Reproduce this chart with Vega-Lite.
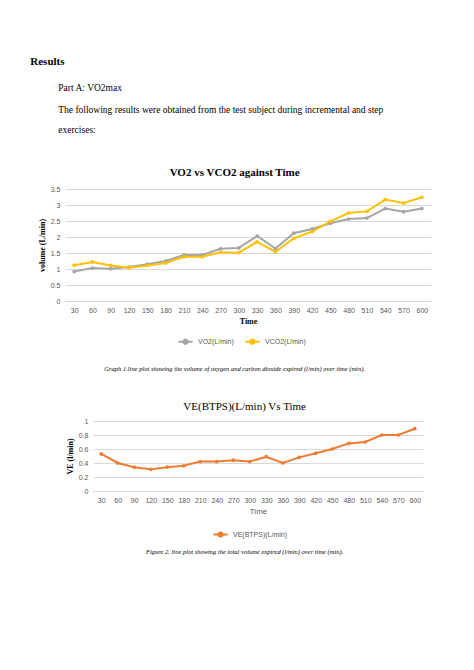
{
  "$schema": "https://vega.github.io/schema/vega-lite/v6.json",
  "padding": {"left": 30, "top": 56, "right": 10, "bottom": 10},
  "background": "white",
  "title": {
    "text": "Results",
    "anchor": "start",
    "fontSize": 11,
    "fontWeight": "bold",
    "font": "Liberation Serif",
    "color": "black",
    "dx": -8,
    "offset": 16
  },
  "datasets": {
    "gas": [
      {"time": 30, "series": "VO2(L/min)", "value": 0.92},
      {"time": 60, "series": "VO2(L/min)", "value": 1.03},
      {"time": 90, "series": "VO2(L/min)", "value": 1.01},
      {"time": 120, "series": "VO2(L/min)", "value": 1.06},
      {"time": 150, "series": "VO2(L/min)", "value": 1.15},
      {"time": 180, "series": "VO2(L/min)", "value": 1.25},
      {"time": 210, "series": "VO2(L/min)", "value": 1.44},
      {"time": 240, "series": "VO2(L/min)", "value": 1.44},
      {"time": 270, "series": "VO2(L/min)", "value": 1.63},
      {"time": 300, "series": "VO2(L/min)", "value": 1.66},
      {"time": 330, "series": "VO2(L/min)", "value": 2.03},
      {"time": 360, "series": "VO2(L/min)", "value": 1.64},
      {"time": 390, "series": "VO2(L/min)", "value": 2.12},
      {"time": 420, "series": "VO2(L/min)", "value": 2.25},
      {"time": 450, "series": "VO2(L/min)", "value": 2.43},
      {"time": 480, "series": "VO2(L/min)", "value": 2.56},
      {"time": 510, "series": "VO2(L/min)", "value": 2.59},
      {"time": 540, "series": "VO2(L/min)", "value": 2.89},
      {"time": 570, "series": "VO2(L/min)", "value": 2.79},
      {"time": 600, "series": "VO2(L/min)", "value": 2.89},
      {"time": 30, "series": "VCO2(L/min)", "value": 1.12},
      {"time": 60, "series": "VCO2(L/min)", "value": 1.22},
      {"time": 90, "series": "VCO2(L/min)", "value": 1.11},
      {"time": 120, "series": "VCO2(L/min)", "value": 1.04},
      {"time": 150, "series": "VCO2(L/min)", "value": 1.11},
      {"time": 180, "series": "VCO2(L/min)", "value": 1.19},
      {"time": 210, "series": "VCO2(L/min)", "value": 1.38},
      {"time": 240, "series": "VCO2(L/min)", "value": 1.38},
      {"time": 270, "series": "VCO2(L/min)", "value": 1.52},
      {"time": 300, "series": "VCO2(L/min)", "value": 1.51},
      {"time": 330, "series": "VCO2(L/min)", "value": 1.85},
      {"time": 360, "series": "VCO2(L/min)", "value": 1.54},
      {"time": 390, "series": "VCO2(L/min)", "value": 1.96},
      {"time": 420, "series": "VCO2(L/min)", "value": 2.17},
      {"time": 450, "series": "VCO2(L/min)", "value": 2.49},
      {"time": 480, "series": "VCO2(L/min)", "value": 2.75},
      {"time": 510, "series": "VCO2(L/min)", "value": 2.8},
      {"time": 540, "series": "VCO2(L/min)", "value": 3.17},
      {"time": 570, "series": "VCO2(L/min)", "value": 3.06},
      {"time": 600, "series": "VCO2(L/min)", "value": 3.24}
    ],
    "ve": [
      {"time": 30, "series": "VE(BTPS)(L/min)", "value": 0.53},
      {"time": 60, "series": "VE(BTPS)(L/min)", "value": 0.4},
      {"time": 90, "series": "VE(BTPS)(L/min)", "value": 0.34},
      {"time": 120, "series": "VE(BTPS)(L/min)", "value": 0.31},
      {"time": 150, "series": "VE(BTPS)(L/min)", "value": 0.34},
      {"time": 180, "series": "VE(BTPS)(L/min)", "value": 0.36},
      {"time": 210, "series": "VE(BTPS)(L/min)", "value": 0.42},
      {"time": 240, "series": "VE(BTPS)(L/min)", "value": 0.42},
      {"time": 270, "series": "VE(BTPS)(L/min)", "value": 0.44},
      {"time": 300, "series": "VE(BTPS)(L/min)", "value": 0.42},
      {"time": 330, "series": "VE(BTPS)(L/min)", "value": 0.49},
      {"time": 360, "series": "VE(BTPS)(L/min)", "value": 0.4},
      {"time": 390, "series": "VE(BTPS)(L/min)", "value": 0.48},
      {"time": 420, "series": "VE(BTPS)(L/min)", "value": 0.54},
      {"time": 450, "series": "VE(BTPS)(L/min)", "value": 0.6},
      {"time": 480, "series": "VE(BTPS)(L/min)", "value": 0.68},
      {"time": 510, "series": "VE(BTPS)(L/min)", "value": 0.7},
      {"time": 540, "series": "VE(BTPS)(L/min)", "value": 0.8},
      {"time": 570, "series": "VE(BTPS)(L/min)", "value": 0.8},
      {"time": 600, "series": "VE(BTPS)(L/min)", "value": 0.89}
    ]
  },
  "center": true,
  "spacing": 28,
  "resolve": {
    "scale": {"color": "independent", "x": "independent", "y": "independent"},
    "legend": {"color": "independent"}
  },
  "vconcat": [
    {
      "title": {
        "text": "Part A: VO2max",
        "subtitle": [
          "The following results were obtained from the test subject during incremental and step",
          "exercises:"
        ],
        "anchor": "start",
        "dx": 20,
        "fontSize": 9.5,
        "fontWeight": "normal",
        "font": "Liberation Serif",
        "color": "black",
        "subtitleFont": "Liberation Serif",
        "subtitleFontSize": 9.5,
        "subtitleColor": "black",
        "subtitlePadding": 12,
        "subtitleLineHeight": 20,
        "offset": 33
      },
      "resolve": {"legend": {"color": "independent"}},
      "vconcat": [
        {
          "title": {
            "text": "Graph 1.line plot showing the volume of oxygen and carbon dioxide expired (l/min) over time (min).",
            "orient": "bottom",
            "anchor": "middle",
            "fontSize": 6.5,
            "fontStyle": "italic",
            "fontWeight": "normal",
            "font": "Liberation Serif",
            "color": "black",
            "offset": 18
          },
          "resolve": {"legend": {"color": "independent"}},
          "vconcat": [
            {
              "width": 366,
              "height": 112,
              "title": {
                "text": "VO2 vs VCO2 against Time",
                "fontSize": 11,
                "fontWeight": "bold",
                "font": "Liberation Serif",
                "color": "black",
                "frame": "bounds",
                "offset": 7
              },
              "data": {"name": "gas"},
              "mark": {"type": "line", "strokeWidth": 2, "point": {"filled": true, "size": 14}},
              "encoding": {
                "x": {
                  "field": "time",
                  "type": "ordinal",
                  "scale": {"type": "point", "padding": 0.5},
                  "axis": {"title": "Time", "labelAngle": 0}
                },
                "y": {
                  "field": "value",
                  "type": "quantitative",
                  "scale": {"domain": [0, 3.5]},
                  "axis": {"title": "volume (L/min)", "values": [0, 0.5, 1, 1.5, 2, 2.5, 3, 3.5], "format": "~g"}
                },
                "color": {
                  "field": "series",
                  "type": "nominal",
                  "scale": {"domain": ["VO2(L/min)", "VCO2(L/min)"], "range": ["#a5a5a5", "#ffc000"]},
                  "legend": {"title": null, "orient": "none", "legendX": 112, "legendY": 144}
                }
              }
            }
          ]
        }
      ]
    },
    {
      "title": {
        "text": "Figure 2. line plot showing the total volume expired (l/min) over time (min).",
        "orient": "bottom",
        "anchor": "middle",
        "fontSize": 6.5,
        "fontStyle": "italic",
        "fontWeight": "normal",
        "font": "Liberation Serif",
        "color": "black",
        "offset": 8
      },
      "resolve": {"legend": {"color": "independent"}},
      "spacing": -8,
      "hconcat": [
        {
          "width": 1,
          "height": 70,
          "data": {"values": []},
          "mark": "point",
          "encoding": {}
        },
        {
          "width": 330,
          "height": 70,
          "title": {
            "text": "VE(BTPS)(L/min) Vs Time",
            "fontSize": 11,
            "fontWeight": "normal",
            "font": "Liberation Serif",
            "color": "black",
            "frame": "bounds",
            "offset": 5
          },
          "data": {"name": "ve"},
          "mark": {"type": "line", "strokeWidth": 2, "point": {"filled": true, "size": 14}},
          "encoding": {
            "x": {
              "field": "time",
              "type": "ordinal",
              "scale": {"type": "point", "padding": 0.5},
              "axis": {"title": "Time", "labelAngle": 0, "titleFont": "Liberation Sans", "titleFontWeight": "normal", "titleColor": "#595959"}
            },
            "y": {
              "field": "value",
              "type": "quantitative",
              "scale": {"domain": [0, 1]},
              "axis": {"title": "VE (l/min)", "values": [0, 0.2, 0.4, 0.6, 0.8, 1], "format": "~g"}
            },
            "color": {
              "field": "series",
              "type": "nominal",
              "scale": {"domain": ["VE(BTPS)(L/min)"], "range": ["#ed7d31"]},
              "legend": {"title": null, "orient": "none", "legendX": 119, "legendY": 105}
            }
          }
        }
      ]
    }
  ],
  "config": {
    "font": "Liberation Sans",
    "view": {"stroke": null},
    "axis": {
      "labelColor": "#595959",
      "labelFontSize": 7,
      "labelPadding": 5,
      "gridColor": "#d9d9d9",
      "domain": false,
      "ticks": false,
      "titleFont": "Liberation Serif",
      "titleFontWeight": "bold",
      "titleFontSize": 8,
      "titleColor": "black",
      "titlePadding": 4
    },
    "axisX": {"grid": false, "domain": true, "domainColor": "#d9d9d9"},
    "legend": {
      "direction": "horizontal",
      "labelFontSize": 7,
      "labelColor": "#595959",
      "columnPadding": 7,
      "symbolType": "M-1,0L1,0M-0.3,0A0.3,0.3,0,1,1,0.3,0A0.3,0.3,0,1,1,-0.3,0Z",
      "symbolSize": 200,
      "symbolStrokeWidth": 2
    }
  }
}
